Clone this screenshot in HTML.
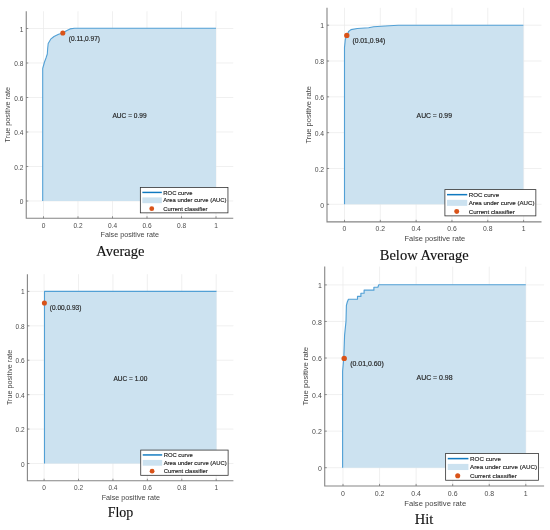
<!DOCTYPE html>
<html><head><meta charset="utf-8"><title>ROC curves</title>
<style>html,body{margin:0;padding:0;background:#fff}svg{display:block}text{font-family:"Liberation Sans",sans-serif}text.b{stroke:#222;stroke-width:0.15px}text.cap{font-family:"Liberation Serif",serif}</style>
</head><body>
<svg width="550" height="530" viewBox="0 0 550 530">
<rect width="550" height="530" fill="#fff"/>
<line x1="43.50" y1="11.25" x2="43.50" y2="218.25" stroke="#eaeaea" stroke-width="0.7"/>
<line x1="26.25" y1="201.00" x2="233.25" y2="201.00" stroke="#eaeaea" stroke-width="0.7"/>
<line x1="78.00" y1="11.25" x2="78.00" y2="218.25" stroke="#eaeaea" stroke-width="0.7"/>
<line x1="26.25" y1="166.50" x2="233.25" y2="166.50" stroke="#eaeaea" stroke-width="0.7"/>
<line x1="112.50" y1="11.25" x2="112.50" y2="218.25" stroke="#eaeaea" stroke-width="0.7"/>
<line x1="26.25" y1="132.00" x2="233.25" y2="132.00" stroke="#eaeaea" stroke-width="0.7"/>
<line x1="147.00" y1="11.25" x2="147.00" y2="218.25" stroke="#eaeaea" stroke-width="0.7"/>
<line x1="26.25" y1="97.50" x2="233.25" y2="97.50" stroke="#eaeaea" stroke-width="0.7"/>
<line x1="181.50" y1="11.25" x2="181.50" y2="218.25" stroke="#eaeaea" stroke-width="0.7"/>
<line x1="26.25" y1="63.00" x2="233.25" y2="63.00" stroke="#eaeaea" stroke-width="0.7"/>
<line x1="216.00" y1="11.25" x2="216.00" y2="218.25" stroke="#eaeaea" stroke-width="0.7"/>
<line x1="26.25" y1="28.50" x2="233.25" y2="28.50" stroke="#eaeaea" stroke-width="0.7"/>
<path d="M42.70,201.00 L42.70,68.50 L44.50,62.00 L46.00,58.00 L47.30,54.00 L47.70,48.00 L48.20,43.50 L50.70,39.20 L54.00,36.50 L58.60,34.20 L62.80,33.00 L66.00,31.00 L70.00,28.90 L74.50,28.30 L216.00,28.30 L216.00,201.00 L43.50,201.00 Z" fill="#cce2f0" stroke="none"/>
<path d="M42.70,201.00 L42.70,68.50 L44.50,62.00 L46.00,58.00 L47.30,54.00 L47.70,48.00 L48.20,43.50 L50.70,39.20 L54.00,36.50 L58.60,34.20 L62.80,33.00 L66.00,31.00 L70.00,28.90 L74.50,28.30 L216.00,28.30" fill="none" stroke="#52a0d5" stroke-width="1.08" stroke-linejoin="round"/>
<path d="M26.25,11.25 L26.25,218.25 L233.25,218.25" fill="none" stroke="#858585" stroke-width="1.1"/>
<line x1="43.50" y1="218.25" x2="43.50" y2="216.25" stroke="#666" stroke-width="0.7"/>
<line x1="26.25" y1="201.00" x2="28.25" y2="201.00" stroke="#666" stroke-width="0.7"/>
<text x="43.50" y="227.85" text-anchor="middle" font-size="6.55" fill="#4c4c4c">0</text>
<text x="23.45" y="204.10" text-anchor="end" font-size="6.55" fill="#4c4c4c">0</text>
<line x1="78.00" y1="218.25" x2="78.00" y2="216.25" stroke="#666" stroke-width="0.7"/>
<line x1="26.25" y1="166.50" x2="28.25" y2="166.50" stroke="#666" stroke-width="0.7"/>
<text x="78.00" y="227.85" text-anchor="middle" font-size="6.55" fill="#4c4c4c">0.2</text>
<text x="23.45" y="169.60" text-anchor="end" font-size="6.55" fill="#4c4c4c">0.2</text>
<line x1="112.50" y1="218.25" x2="112.50" y2="216.25" stroke="#666" stroke-width="0.7"/>
<line x1="26.25" y1="132.00" x2="28.25" y2="132.00" stroke="#666" stroke-width="0.7"/>
<text x="112.50" y="227.85" text-anchor="middle" font-size="6.55" fill="#4c4c4c">0.4</text>
<text x="23.45" y="135.10" text-anchor="end" font-size="6.55" fill="#4c4c4c">0.4</text>
<line x1="147.00" y1="218.25" x2="147.00" y2="216.25" stroke="#666" stroke-width="0.7"/>
<line x1="26.25" y1="97.50" x2="28.25" y2="97.50" stroke="#666" stroke-width="0.7"/>
<text x="147.00" y="227.85" text-anchor="middle" font-size="6.55" fill="#4c4c4c">0.6</text>
<text x="23.45" y="100.60" text-anchor="end" font-size="6.55" fill="#4c4c4c">0.6</text>
<line x1="181.50" y1="218.25" x2="181.50" y2="216.25" stroke="#666" stroke-width="0.7"/>
<line x1="26.25" y1="63.00" x2="28.25" y2="63.00" stroke="#666" stroke-width="0.7"/>
<text x="181.50" y="227.85" text-anchor="middle" font-size="6.55" fill="#4c4c4c">0.8</text>
<text x="23.45" y="66.10" text-anchor="end" font-size="6.55" fill="#4c4c4c">0.8</text>
<line x1="216.00" y1="218.25" x2="216.00" y2="216.25" stroke="#666" stroke-width="0.7"/>
<line x1="26.25" y1="28.50" x2="28.25" y2="28.50" stroke="#666" stroke-width="0.7"/>
<text x="216.00" y="227.85" text-anchor="middle" font-size="6.55" fill="#4c4c4c">1</text>
<text x="23.45" y="31.60" text-anchor="end" font-size="6.55" fill="#4c4c4c">1</text>
<text x="129.75" y="237.35" text-anchor="middle" font-size="7.20" fill="#444">False positive rate</text>
<text transform="translate(9.65,114.75) rotate(-90)" text-anchor="middle" font-size="7.20" fill="#444">True positive rate</text>
<text x="112.50" y="118.00" font-size="6.55" fill="#222" class="b">AUC = 0.99</text>
<circle cx="62.80" cy="33.00" r="2.55" fill="#d95319"/>
<text x="68.80" y="40.50" font-size="6.55" fill="#222" class="b">(0.11,0.97)</text>
<rect x="140.35" y="187.55" width="87.60" height="25.30" fill="#fff" stroke="#333" stroke-width="0.8"/>
<line x1="142.35" y1="192.43" x2="161.85" y2="192.43" stroke="#0f79c0" stroke-width="1.45"/>
<rect x="142.35" y="197.40" width="19.50" height="5.80" fill="#cce2f0"/>
<circle cx="151.75" cy="208.68" r="2.40" fill="#d95319"/>
<text x="163.35" y="194.58" font-size="5.90" fill="#222" class="b">ROC curve</text>
<text x="163.35" y="202.45" font-size="5.90" fill="#222" class="b">Area under curve (AUC)</text>
<text x="163.35" y="210.83" font-size="5.90" fill="#222" class="b">Current classifier</text>
<text transform="translate(120.40,255.60) scale(1.07,1)" text-anchor="middle" class="cap" font-size="13.6" fill="#111" stroke="#111" stroke-width="0.12">Average</text>
<line x1="344.50" y1="7.80" x2="344.50" y2="221.90" stroke="#eaeaea" stroke-width="0.7"/>
<line x1="327.00" y1="204.30" x2="541.51" y2="204.30" stroke="#eaeaea" stroke-width="0.7"/>
<line x1="380.32" y1="7.80" x2="380.32" y2="221.90" stroke="#eaeaea" stroke-width="0.7"/>
<line x1="327.00" y1="168.48" x2="541.51" y2="168.48" stroke="#eaeaea" stroke-width="0.7"/>
<line x1="416.14" y1="7.80" x2="416.14" y2="221.90" stroke="#eaeaea" stroke-width="0.7"/>
<line x1="327.00" y1="132.66" x2="541.51" y2="132.66" stroke="#eaeaea" stroke-width="0.7"/>
<line x1="451.96" y1="7.80" x2="451.96" y2="221.90" stroke="#eaeaea" stroke-width="0.7"/>
<line x1="327.00" y1="96.84" x2="541.51" y2="96.84" stroke="#eaeaea" stroke-width="0.7"/>
<line x1="487.78" y1="7.80" x2="487.78" y2="221.90" stroke="#eaeaea" stroke-width="0.7"/>
<line x1="327.00" y1="61.02" x2="541.51" y2="61.02" stroke="#eaeaea" stroke-width="0.7"/>
<line x1="523.60" y1="7.80" x2="523.60" y2="221.90" stroke="#eaeaea" stroke-width="0.7"/>
<line x1="327.00" y1="25.20" x2="541.51" y2="25.20" stroke="#eaeaea" stroke-width="0.7"/>
<path d="M344.50,204.30 L344.50,47.60 L345.30,39.50 L347.00,35.40 L348.60,31.50 L351.00,29.60 L357.30,28.50 L368.70,27.80 L373.60,26.80 L385.10,26.00 L398.20,25.30 L523.40,25.30 L523.40,204.30 L344.50,204.30 Z" fill="#cce2f0" stroke="none"/>
<path d="M344.50,204.30 L344.50,47.60 L345.30,39.50 L347.00,35.40 L348.60,31.50 L351.00,29.60 L357.30,28.50 L368.70,27.80 L373.60,26.80 L385.10,26.00 L398.20,25.30 L523.40,25.30" fill="none" stroke="#52a0d5" stroke-width="1.12" stroke-linejoin="round"/>
<path d="M327.00,7.80 L327.00,221.90 L541.51,221.90" fill="none" stroke="#858585" stroke-width="1.1"/>
<line x1="344.50" y1="221.90" x2="344.50" y2="219.82" stroke="#666" stroke-width="0.7"/>
<line x1="327.00" y1="204.30" x2="329.08" y2="204.30" stroke="#666" stroke-width="0.7"/>
<text x="344.50" y="231.12" text-anchor="middle" font-size="6.80" fill="#4c4c4c">0</text>
<text x="324.09" y="207.52" text-anchor="end" font-size="6.80" fill="#4c4c4c">0</text>
<line x1="380.32" y1="221.90" x2="380.32" y2="219.82" stroke="#666" stroke-width="0.7"/>
<line x1="327.00" y1="168.48" x2="329.08" y2="168.48" stroke="#666" stroke-width="0.7"/>
<text x="380.32" y="231.12" text-anchor="middle" font-size="6.80" fill="#4c4c4c">0.2</text>
<text x="324.09" y="171.70" text-anchor="end" font-size="6.80" fill="#4c4c4c">0.2</text>
<line x1="416.14" y1="221.90" x2="416.14" y2="219.82" stroke="#666" stroke-width="0.7"/>
<line x1="327.00" y1="132.66" x2="329.08" y2="132.66" stroke="#666" stroke-width="0.7"/>
<text x="416.14" y="231.12" text-anchor="middle" font-size="6.80" fill="#4c4c4c">0.4</text>
<text x="324.09" y="135.88" text-anchor="end" font-size="6.80" fill="#4c4c4c">0.4</text>
<line x1="451.96" y1="221.90" x2="451.96" y2="219.82" stroke="#666" stroke-width="0.7"/>
<line x1="327.00" y1="96.84" x2="329.08" y2="96.84" stroke="#666" stroke-width="0.7"/>
<text x="451.96" y="231.12" text-anchor="middle" font-size="6.80" fill="#4c4c4c">0.6</text>
<text x="324.09" y="100.06" text-anchor="end" font-size="6.80" fill="#4c4c4c">0.6</text>
<line x1="487.78" y1="221.90" x2="487.78" y2="219.82" stroke="#666" stroke-width="0.7"/>
<line x1="327.00" y1="61.02" x2="329.08" y2="61.02" stroke="#666" stroke-width="0.7"/>
<text x="487.78" y="231.12" text-anchor="middle" font-size="6.80" fill="#4c4c4c">0.8</text>
<text x="324.09" y="64.24" text-anchor="end" font-size="6.80" fill="#4c4c4c">0.8</text>
<line x1="523.60" y1="221.90" x2="523.60" y2="219.82" stroke="#666" stroke-width="0.7"/>
<line x1="327.00" y1="25.20" x2="329.08" y2="25.20" stroke="#666" stroke-width="0.7"/>
<text x="523.60" y="231.12" text-anchor="middle" font-size="6.80" fill="#4c4c4c">1</text>
<text x="324.09" y="28.42" text-anchor="end" font-size="6.80" fill="#4c4c4c">1</text>
<text x="434.86" y="241.40" text-anchor="middle" font-size="7.48" fill="#444">False positive rate</text>
<text transform="translate(311.30,114.85) rotate(-90)" text-anchor="middle" font-size="7.48" fill="#444">True positive rate</text>
<text x="416.60" y="117.60" font-size="6.80" fill="#222" class="b">AUC = 0.99</text>
<circle cx="346.80" cy="35.40" r="2.65" fill="#d95319"/>
<text x="352.40" y="43.00" font-size="6.80" fill="#222" class="b">(0.01,0.94)</text>
<rect x="444.90" y="189.60" width="90.95" height="26.27" fill="#fff" stroke="#333" stroke-width="0.8"/>
<line x1="446.98" y1="194.66" x2="467.22" y2="194.66" stroke="#0f79c0" stroke-width="1.51"/>
<rect x="446.98" y="199.83" width="20.25" height="6.02" fill="#cce2f0"/>
<circle cx="456.74" cy="211.53" r="2.49" fill="#d95319"/>
<text x="468.78" y="196.89" font-size="6.13" fill="#222" class="b">ROC curve</text>
<text x="468.78" y="205.07" font-size="6.13" fill="#222" class="b">Area under curve (AUC)</text>
<text x="468.78" y="213.77" font-size="6.13" fill="#222" class="b">Current classifier</text>
<text transform="translate(424.20,260.40) scale(1.07,1)" text-anchor="middle" class="cap" font-size="13.6" fill="#111" stroke="#111" stroke-width="0.12">Below Average</text>
<line x1="44.10" y1="274.19" x2="44.10" y2="480.71" stroke="#eaeaea" stroke-width="0.7"/>
<line x1="27.40" y1="463.50" x2="233.41" y2="463.50" stroke="#eaeaea" stroke-width="0.7"/>
<line x1="78.52" y1="274.19" x2="78.52" y2="480.71" stroke="#eaeaea" stroke-width="0.7"/>
<line x1="27.40" y1="429.08" x2="233.41" y2="429.08" stroke="#eaeaea" stroke-width="0.7"/>
<line x1="112.94" y1="274.19" x2="112.94" y2="480.71" stroke="#eaeaea" stroke-width="0.7"/>
<line x1="27.40" y1="394.66" x2="233.41" y2="394.66" stroke="#eaeaea" stroke-width="0.7"/>
<line x1="147.36" y1="274.19" x2="147.36" y2="480.71" stroke="#eaeaea" stroke-width="0.7"/>
<line x1="27.40" y1="360.24" x2="233.41" y2="360.24" stroke="#eaeaea" stroke-width="0.7"/>
<line x1="181.78" y1="274.19" x2="181.78" y2="480.71" stroke="#eaeaea" stroke-width="0.7"/>
<line x1="27.40" y1="325.82" x2="233.41" y2="325.82" stroke="#eaeaea" stroke-width="0.7"/>
<line x1="216.20" y1="274.19" x2="216.20" y2="480.71" stroke="#eaeaea" stroke-width="0.7"/>
<line x1="27.40" y1="291.40" x2="233.41" y2="291.40" stroke="#eaeaea" stroke-width="0.7"/>
<path d="M44.50,463.50 L44.50,291.40 L216.50,291.40 L216.50,463.50 L44.10,463.50 Z" fill="#cce2f0" stroke="none"/>
<path d="M44.50,463.50 L44.50,291.40 L216.50,291.40" fill="none" stroke="#52a0d5" stroke-width="1.08" stroke-linejoin="round"/>
<path d="M27.40,274.19 L27.40,480.71 L233.41,480.71" fill="none" stroke="#858585" stroke-width="1.1"/>
<line x1="44.10" y1="480.71" x2="44.10" y2="478.71" stroke="#666" stroke-width="0.7"/>
<line x1="27.40" y1="463.50" x2="29.40" y2="463.50" stroke="#666" stroke-width="0.7"/>
<text x="44.10" y="490.29" text-anchor="middle" font-size="6.53" fill="#4c4c4c">0</text>
<text x="24.61" y="466.59" text-anchor="end" font-size="6.53" fill="#4c4c4c">0</text>
<line x1="78.52" y1="480.71" x2="78.52" y2="478.71" stroke="#666" stroke-width="0.7"/>
<line x1="27.40" y1="429.08" x2="29.40" y2="429.08" stroke="#666" stroke-width="0.7"/>
<text x="78.52" y="490.29" text-anchor="middle" font-size="6.53" fill="#4c4c4c">0.2</text>
<text x="24.61" y="432.17" text-anchor="end" font-size="6.53" fill="#4c4c4c">0.2</text>
<line x1="112.94" y1="480.71" x2="112.94" y2="478.71" stroke="#666" stroke-width="0.7"/>
<line x1="27.40" y1="394.66" x2="29.40" y2="394.66" stroke="#666" stroke-width="0.7"/>
<text x="112.94" y="490.29" text-anchor="middle" font-size="6.53" fill="#4c4c4c">0.4</text>
<text x="24.61" y="397.75" text-anchor="end" font-size="6.53" fill="#4c4c4c">0.4</text>
<line x1="147.36" y1="480.71" x2="147.36" y2="478.71" stroke="#666" stroke-width="0.7"/>
<line x1="27.40" y1="360.24" x2="29.40" y2="360.24" stroke="#666" stroke-width="0.7"/>
<text x="147.36" y="490.29" text-anchor="middle" font-size="6.53" fill="#4c4c4c">0.6</text>
<text x="24.61" y="363.33" text-anchor="end" font-size="6.53" fill="#4c4c4c">0.6</text>
<line x1="181.78" y1="480.71" x2="181.78" y2="478.71" stroke="#666" stroke-width="0.7"/>
<line x1="27.40" y1="325.82" x2="29.40" y2="325.82" stroke="#666" stroke-width="0.7"/>
<text x="181.78" y="490.29" text-anchor="middle" font-size="6.53" fill="#4c4c4c">0.8</text>
<text x="24.61" y="328.91" text-anchor="end" font-size="6.53" fill="#4c4c4c">0.8</text>
<line x1="216.20" y1="480.71" x2="216.20" y2="478.71" stroke="#666" stroke-width="0.7"/>
<line x1="27.40" y1="291.40" x2="29.40" y2="291.40" stroke="#666" stroke-width="0.7"/>
<text x="216.20" y="490.29" text-anchor="middle" font-size="6.53" fill="#4c4c4c">1</text>
<text x="24.61" y="294.49" text-anchor="end" font-size="6.53" fill="#4c4c4c">1</text>
<text x="130.81" y="500.16" text-anchor="middle" font-size="7.18" fill="#444">False positive rate</text>
<text transform="translate(11.60,377.45) rotate(-90)" text-anchor="middle" font-size="7.18" fill="#444">True positive rate</text>
<text x="113.50" y="380.90" font-size="6.53" fill="#222" class="b">AUC = 1.00</text>
<circle cx="44.40" cy="303.00" r="2.54" fill="#d95319"/>
<text x="49.80" y="310.00" font-size="6.53" fill="#222" class="b">(0.00,0.93)</text>
<rect x="140.73" y="450.08" width="87.40" height="25.24" fill="#fff" stroke="#333" stroke-width="0.8"/>
<line x1="142.72" y1="454.94" x2="162.18" y2="454.94" stroke="#0f79c0" stroke-width="1.45"/>
<rect x="142.72" y="459.91" width="19.45" height="5.79" fill="#cce2f0"/>
<circle cx="152.10" cy="471.16" r="2.39" fill="#d95319"/>
<text x="163.67" y="457.09" font-size="5.89" fill="#222" class="b">ROC curve</text>
<text x="163.67" y="464.95" font-size="5.89" fill="#222" class="b">Area under curve (AUC)</text>
<text x="163.67" y="473.30" font-size="5.89" fill="#222" class="b">Current classifier</text>
<text transform="translate(120.50,516.80) scale(1.025,1)" text-anchor="middle" class="cap" font-size="13.6" fill="#111" stroke="#111" stroke-width="0.12">Flop</text>
<line x1="343.00" y1="266.62" x2="343.00" y2="485.98" stroke="#eaeaea" stroke-width="0.7"/>
<line x1="324.72" y1="467.70" x2="544.08" y2="467.70" stroke="#eaeaea" stroke-width="0.7"/>
<line x1="379.56" y1="266.62" x2="379.56" y2="485.98" stroke="#eaeaea" stroke-width="0.7"/>
<line x1="324.72" y1="431.14" x2="544.08" y2="431.14" stroke="#eaeaea" stroke-width="0.7"/>
<line x1="416.12" y1="266.62" x2="416.12" y2="485.98" stroke="#eaeaea" stroke-width="0.7"/>
<line x1="324.72" y1="394.58" x2="544.08" y2="394.58" stroke="#eaeaea" stroke-width="0.7"/>
<line x1="452.68" y1="266.62" x2="452.68" y2="485.98" stroke="#eaeaea" stroke-width="0.7"/>
<line x1="324.72" y1="358.02" x2="544.08" y2="358.02" stroke="#eaeaea" stroke-width="0.7"/>
<line x1="489.24" y1="266.62" x2="489.24" y2="485.98" stroke="#eaeaea" stroke-width="0.7"/>
<line x1="324.72" y1="321.46" x2="544.08" y2="321.46" stroke="#eaeaea" stroke-width="0.7"/>
<line x1="525.80" y1="266.62" x2="525.80" y2="485.98" stroke="#eaeaea" stroke-width="0.7"/>
<line x1="324.72" y1="284.90" x2="544.08" y2="284.90" stroke="#eaeaea" stroke-width="0.7"/>
<path d="M342.60,467.70 L342.60,371.30 L343.80,357.70 L344.60,335.10 L346.00,321.30 L346.40,305.40 L347.30,302.00 L348.45,299.20 L357.50,299.20 L357.50,296.40 L360.90,296.40 L360.90,293.20 L364.10,293.20 L364.10,290.15 L373.90,290.15 L373.90,287.30 L377.90,287.30 L378.80,284.80 L525.80,284.80 L525.80,467.70 L343.00,467.70 Z" fill="#cce2f0" stroke="none"/>
<path d="M342.60,467.70 L342.60,371.30 L343.80,357.70 L344.60,335.10 L346.00,321.30 L346.40,305.40 L347.30,302.00 L348.45,299.20 L357.50,299.20 L357.50,296.40 L360.90,296.40 L360.90,293.20 L364.10,293.20 L364.10,290.15 L373.90,290.15 L373.90,287.30 L377.90,287.30 L378.80,284.80 L525.80,284.80" fill="none" stroke="#52a0d5" stroke-width="1.14" stroke-linejoin="round"/>
<path d="M324.72,266.62 L324.72,485.98 L544.08,485.98" fill="none" stroke="#858585" stroke-width="1.1"/>
<line x1="343.00" y1="485.98" x2="343.00" y2="483.86" stroke="#666" stroke-width="0.7"/>
<line x1="324.72" y1="467.70" x2="326.84" y2="467.70" stroke="#666" stroke-width="0.7"/>
<text x="343.00" y="496.15" text-anchor="middle" font-size="6.94" fill="#4c4c4c">0</text>
<text x="321.75" y="470.99" text-anchor="end" font-size="6.94" fill="#4c4c4c">0</text>
<line x1="379.56" y1="485.98" x2="379.56" y2="483.86" stroke="#666" stroke-width="0.7"/>
<line x1="324.72" y1="431.14" x2="326.84" y2="431.14" stroke="#666" stroke-width="0.7"/>
<text x="379.56" y="496.15" text-anchor="middle" font-size="6.94" fill="#4c4c4c">0.2</text>
<text x="321.75" y="434.43" text-anchor="end" font-size="6.94" fill="#4c4c4c">0.2</text>
<line x1="416.12" y1="485.98" x2="416.12" y2="483.86" stroke="#666" stroke-width="0.7"/>
<line x1="324.72" y1="394.58" x2="326.84" y2="394.58" stroke="#666" stroke-width="0.7"/>
<text x="416.12" y="496.15" text-anchor="middle" font-size="6.94" fill="#4c4c4c">0.4</text>
<text x="321.75" y="397.87" text-anchor="end" font-size="6.94" fill="#4c4c4c">0.4</text>
<line x1="452.68" y1="485.98" x2="452.68" y2="483.86" stroke="#666" stroke-width="0.7"/>
<line x1="324.72" y1="358.02" x2="326.84" y2="358.02" stroke="#666" stroke-width="0.7"/>
<text x="452.68" y="496.15" text-anchor="middle" font-size="6.94" fill="#4c4c4c">0.6</text>
<text x="321.75" y="361.31" text-anchor="end" font-size="6.94" fill="#4c4c4c">0.6</text>
<line x1="489.24" y1="485.98" x2="489.24" y2="483.86" stroke="#666" stroke-width="0.7"/>
<line x1="324.72" y1="321.46" x2="326.84" y2="321.46" stroke="#666" stroke-width="0.7"/>
<text x="489.24" y="496.15" text-anchor="middle" font-size="6.94" fill="#4c4c4c">0.8</text>
<text x="321.75" y="324.75" text-anchor="end" font-size="6.94" fill="#4c4c4c">0.8</text>
<line x1="525.80" y1="485.98" x2="525.80" y2="483.86" stroke="#666" stroke-width="0.7"/>
<line x1="324.72" y1="284.90" x2="326.84" y2="284.90" stroke="#666" stroke-width="0.7"/>
<text x="525.80" y="496.15" text-anchor="middle" font-size="6.94" fill="#4c4c4c">1</text>
<text x="321.75" y="288.19" text-anchor="end" font-size="6.94" fill="#4c4c4c">1</text>
<text x="435.20" y="506.24" text-anchor="middle" font-size="7.63" fill="#444">False positive rate</text>
<text transform="translate(307.90,376.30) rotate(-90)" text-anchor="middle" font-size="7.63" fill="#444">True positive rate</text>
<text x="416.50" y="379.60" font-size="6.94" fill="#222" class="b">AUC = 0.98</text>
<circle cx="344.20" cy="358.40" r="2.70" fill="#d95319"/>
<text x="350.20" y="365.90" font-size="6.94" fill="#222" class="b">(0.01,0.60)</text>
<rect x="445.63" y="453.45" width="92.83" height="26.81" fill="#fff" stroke="#333" stroke-width="0.8"/>
<line x1="447.75" y1="458.61" x2="468.42" y2="458.61" stroke="#0f79c0" stroke-width="1.54"/>
<rect x="447.75" y="463.89" width="20.66" height="6.15" fill="#cce2f0"/>
<circle cx="457.71" cy="475.83" r="2.54" fill="#d95319"/>
<text x="470.01" y="460.89" font-size="6.25" fill="#222" class="b">ROC curve</text>
<text x="470.01" y="469.24" font-size="6.25" fill="#222" class="b">Area under curve (AUC)</text>
<text x="470.01" y="478.11" font-size="6.25" fill="#222" class="b">Current classifier</text>
<text transform="translate(424.00,523.70) scale(1.07,1)" text-anchor="middle" class="cap" font-size="13.6" fill="#111" stroke="#111" stroke-width="0.12">Hit</text>
</svg>
</body></html>
